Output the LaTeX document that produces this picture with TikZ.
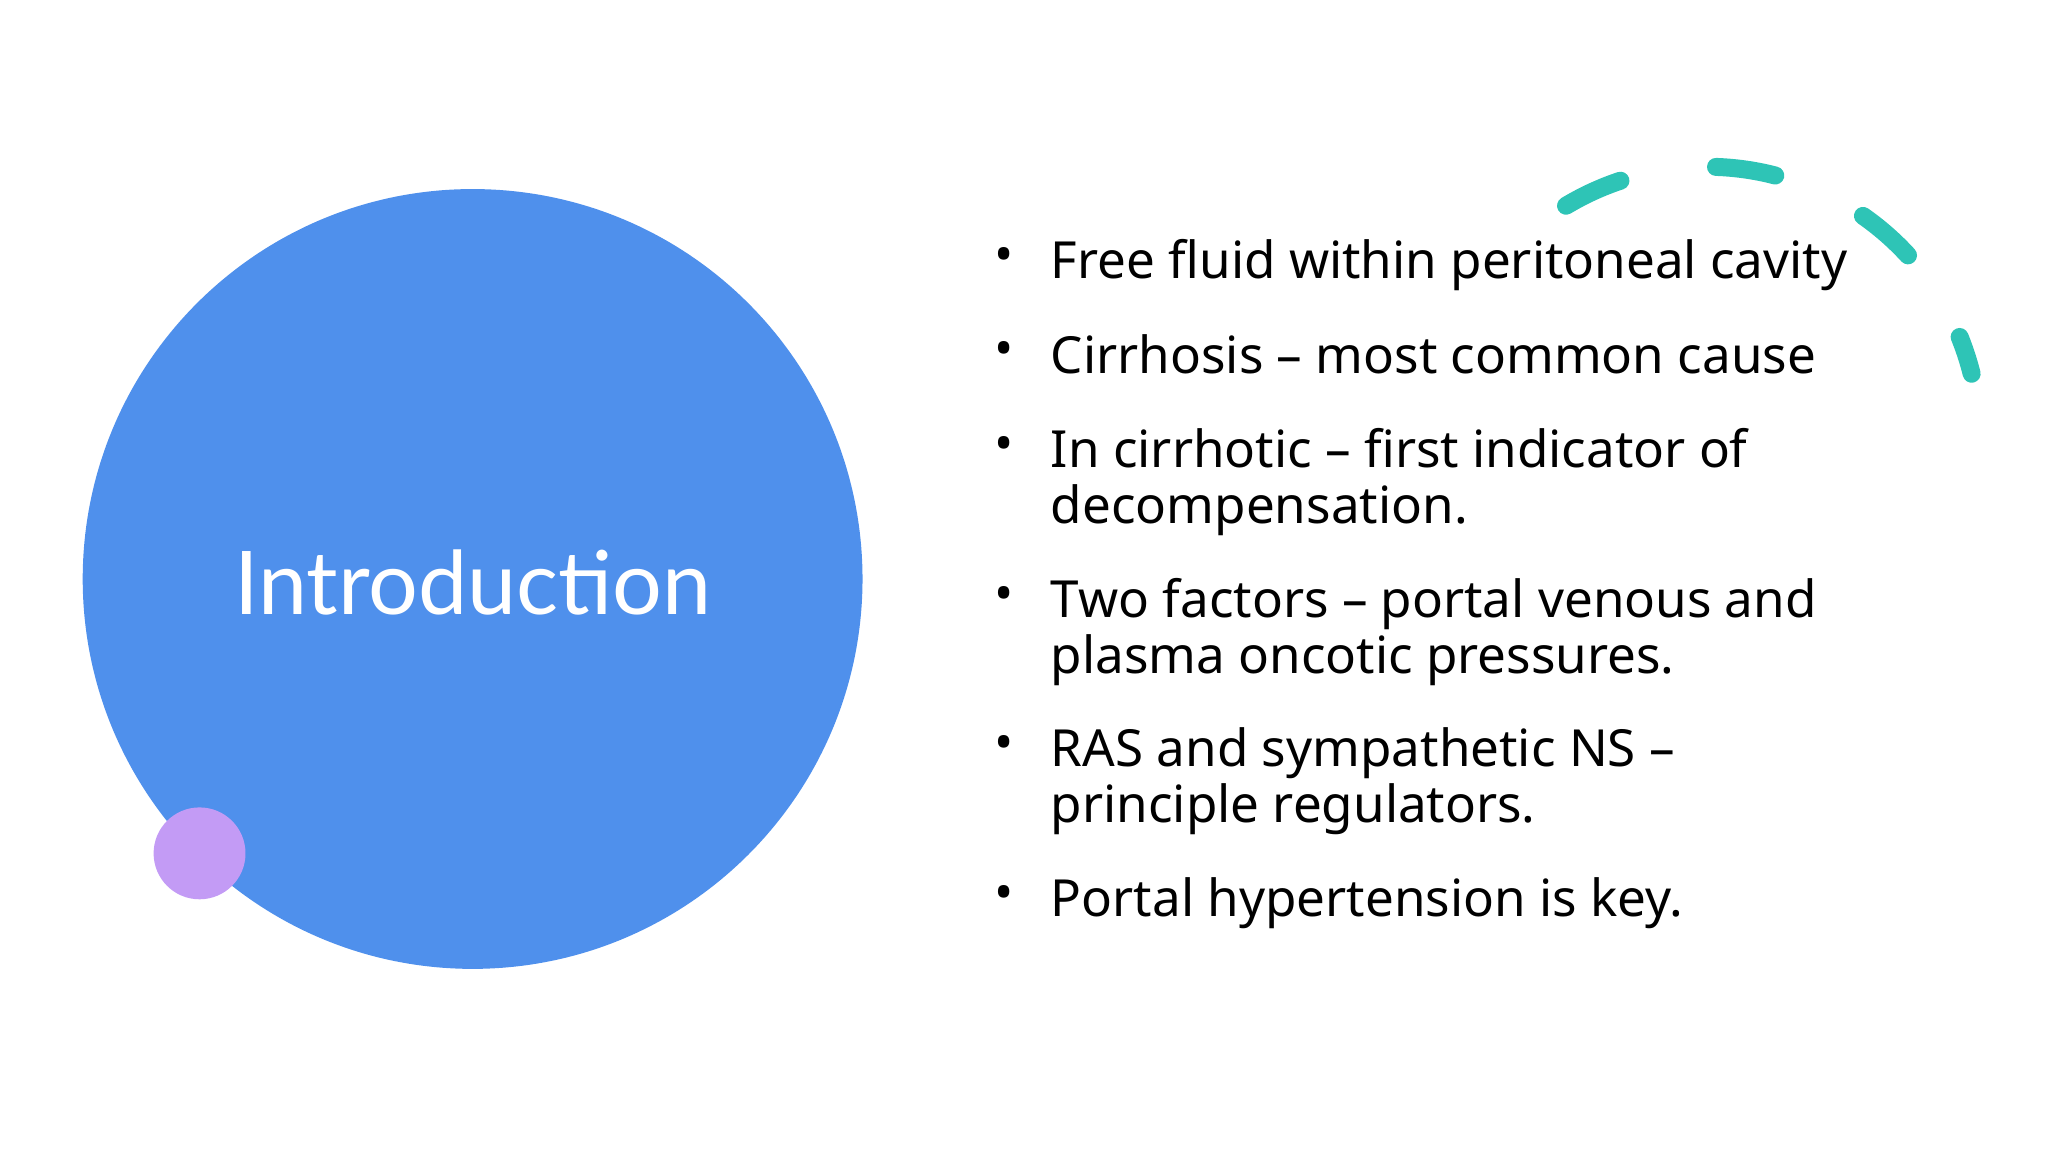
\documentclass[tikz,border=0pt]{standalone}
\usepackage{fontspec}
\setmainfont{Noto Sans}
\newfontfamily\titlefont{Lato}
\definecolor{bigblue}{HTML}{4F90EC}
\definecolor{lilac}{HTML}{C39BF5}
\definecolor{teal2}{HTML}{2EC4B6}
\begin{document}
\begin{tikzpicture}[x=0.01313cm,y=-0.01313cm,
  item/.style={anchor=north west,inner sep=0pt,align=left,font=\fontsize{14.55}{15.8}\selectfont},
  dot/.style={anchor=center,inner sep=0pt,font=\fontsize{14.55}{15.8}\selectfont}]
\useasboundingbox (0,0) rectangle (1560,877.5);
\fill[bigblue] (360,441) circle (297);
\fill[lilac] (152,650) circle (35);
\node[text=white,font=\titlefont\fontsize{25}{30}\selectfont] (title) at (360,444) {Introduction};
\draw[teal2,line width=0.18cm,line cap=round,dash pattern=on 0.6cm off 0.97cm]
  (1300,335) ++(-121:208) arc[start angle=-121,end angle=-14,radius=208];
\foreach \n/\y/\t in {a/182/{Free fluid within peritoneal cavity},
  b/254/{Cirrhosis – most common cause},
  c/326/{In cirrhotic – first indicator of\\decompensation.},
  d/440/{Two factors – portal venous and\\plasma oncotic pressures.},
  e/554/{RAS and sympathetic NS –\\principle regulators.},
  f/668/{Portal hypertension is key.}}{
  \node[dot] (b\n) at (765,\y+16) {•};
  \node[item] (t\n) at (800,\y) {\t};
}
\end{tikzpicture}
\end{document}
